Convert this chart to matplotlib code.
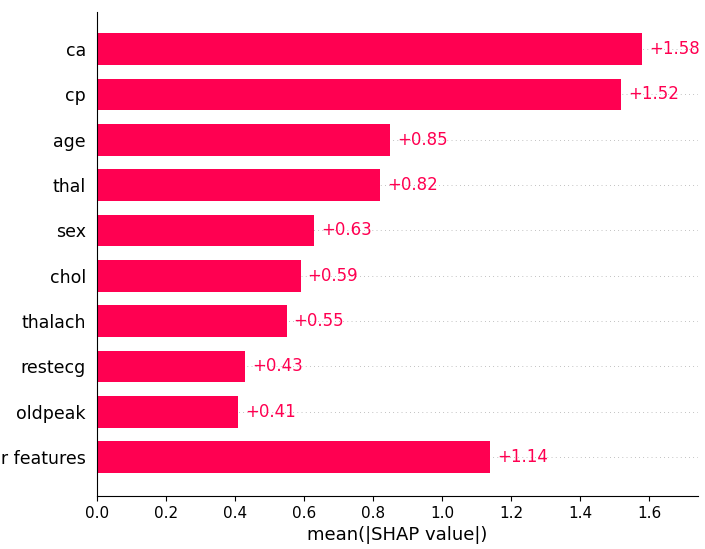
import matplotlib.pyplot as plt

features = ["ca", "cp", "age", "thal", "sex", "chol", "thalach", "restecg",
            "oldpeak", "Sum of 9 other features"]
mean_abs_shap = [1.58, 1.52, 0.85, 0.82, 0.63, 0.59, 0.55, 0.43, 0.41, 1.14]

RED = "#ff0051"


def make_chart():
    fig = plt.figure(figsize=(7.05, 5.49), dpi=100)
    ax = fig.add_axes([97 / 705, 53 / 549, 601 / 705, 484 / 549])

    n = len(features)
    y_pos = list(range(n - 1, -1, -1))

    # dotted guide lines behind each row
    for y in y_pos:
        ax.axhline(y, color="#888888", lw=0.5, dashes=(1, 5), zorder=-1)

    ax.barh(y_pos, mean_abs_shap, height=0.7, color=RED, align="center")

    xmax = 1.742
    offset = xmax * (5 / 72) / (601 / 100)
    for y, v in zip(y_pos, mean_abs_shap):
        ax.text(v + offset, y, f"+{v:.2f}", ha="left", va="center",
                color=RED, fontsize=12)

    ax.set_yticks(y_pos)
    ax.set_yticklabels(features, fontsize=12.5)
    ax.tick_params(axis="y", length=0, pad=8)
    ax.tick_params(axis="x", labelsize=11)
    ax.set_xlim(0, xmax)
    ax.set_ylim(-0.86, n - 1 + 0.82)
    ax.set_xticks([0.0, 0.2, 0.4, 0.6, 0.8, 1.0, 1.2, 1.4, 1.6])

    ax.spines["top"].set_visible(False)
    ax.spines["right"].set_visible(False)

    ax.set_xlabel("mean(|SHAP value|)", fontsize=13)

    fig.savefig("out.png", dpi=100)
    plt.close(fig)


if __name__ == "__main__":
    make_chart()
